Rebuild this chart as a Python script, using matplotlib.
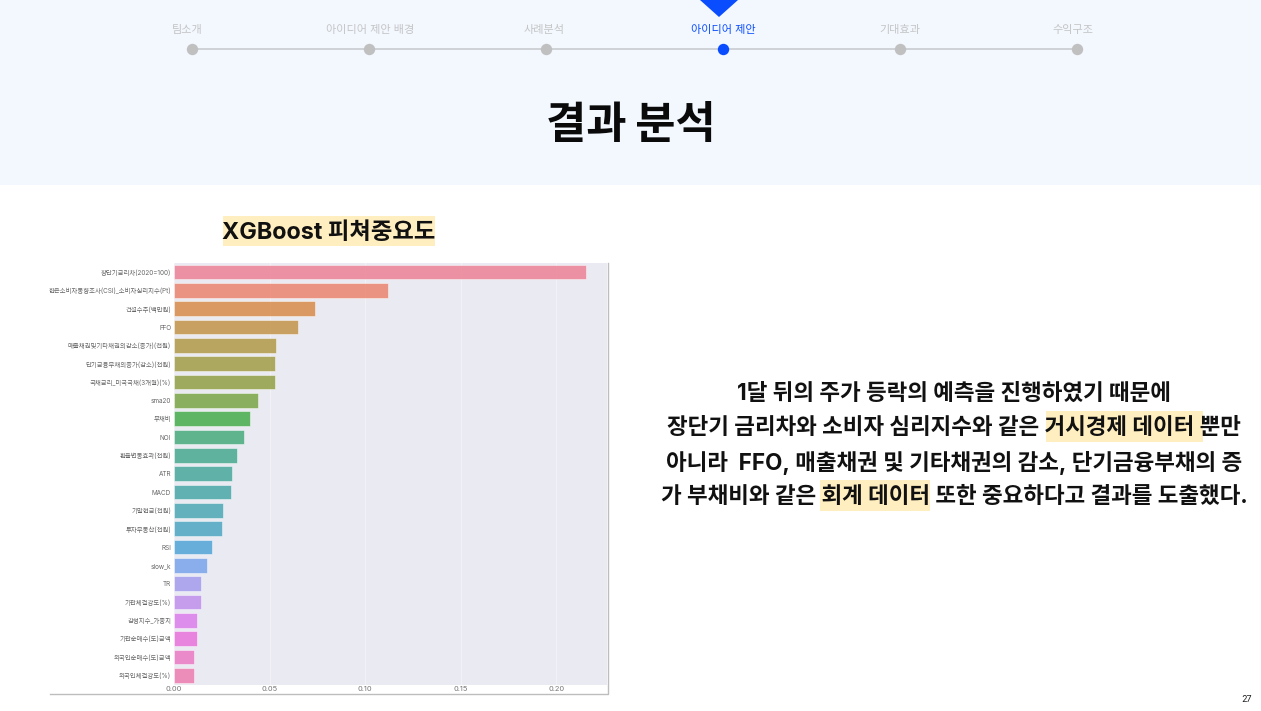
import matplotlib
matplotlib.use('Agg')
import matplotlib.pyplot as plt
import seaborn as sns
from matplotlib.patches import Rectangle, Polygon

# Inter for latin and digits, Noto for the hangul
plt.rcParams['font.family'] = ['Inter', 'Noto Sans CJK KR', 'DejaVu Sans']

# Chart data
features = ['장단기금리차(2020=100)', '한은소비자동향조사(CSI)_소비자심리지수(Pt)', '건설수주(백만원)', 'FFO',
            '매출채권및기타채권의감소(증가)(천원)', '단기금융부채의증가(감소)(천원)', '국채금리_미국국채(3개월)(%)',
            'sma20', '부채비', 'NOI', '환율변동효과(천원)', 'ATR', 'MACD', '기말현금(천원)', '투자부동산(천원)',
            'RSI', 'slow_k', 'TR', '기관체결강도(%)', '감성지수_가중치', '기관순매수(도)금액',
            '외국인순매수(도)금액', '외국인체결강도(%)']
importance = [0.2155, 0.1120, 0.0737, 0.0650, 0.0535, 0.0527, 0.0526, 0.0440, 0.0398, 0.0367,
              0.0327, 0.0303, 0.0298, 0.0257, 0.0252, 0.0197, 0.0172, 0.0143, 0.0141, 0.0118,
              0.0118, 0.0106, 0.0102]
x_ticks = [0.00, 0.05, 0.10, 0.15, 0.20]

steps = ['팀소개', '아이디어 제안 배경', '사례분석', '아이디어 제안', '기대효과', '수익구조']
step_label_x = [187, 370, 544, 723, 900, 1073]
step_node_x = [191.5, 368.5, 545.5, 722.5, 899.5, 1076.5]
active_step = 3

body_lines = ['1달 뒤의 주가 등락의 예측을 진행하였기 때문에',
              '장단기 금리차와 소비자 심리지수와 같은 거시경제 데이터 뿐만',
              '아니라  FFO, 매출채권 및 기타채권의 감소, 단기금융부채의 증',
              '가 부채비와 같은 회계 데이터 또한 중요하다고 결과를 도출했다.']
body_y = [394, 428, 463, 497]

W, H = 1261, 711
BLUE = '#0A4DFF'
HIGHLIGHT = '#FFEEBF'

fig = plt.figure(figsize=(W / 100, H / 100), dpi=100, facecolor='white')

# Full page layer in pixel coordinates for the slide decoration
page = fig.add_axes([0, 0, 1, 1])
page.set_xlim(0, W)
page.set_ylim(H, 0)
page.axis('off')

page.add_patch(Rectangle((0, 0), W, 185, color='#F3F8FF', lw=0))
page.add_patch(Polygon([(700, 0), (738, 0), (719, 17)], color=BLUE, lw=0))
page.plot([192, 1077], [49, 49], color='#CFD2D6', lw=1.4, zorder=2)
for i, name in enumerate(steps):
    col = BLUE if i == active_step else '#C0C0C0'
    txt_col = BLUE if i == active_step else '#C4C4C4'
    page.plot(step_node_x[i], 49, 'o', ms=8.2, color=col, mew=0, zorder=3)
    page.text(step_label_x[i], 30, name, color=txt_col, fontsize=8.0, ha='center', va='center')

page.text(631, 127, '결과 분석', fontsize=31.5, fontweight='black', color='#0A0A0A', ha='center', va='center')

# Highlighted words
page.add_patch(Rectangle((223, 216), 212, 30, color=HIGHLIGHT, lw=0))
page.add_patch(Rectangle((1046, 411), 157, 31, color=HIGHLIGHT, lw=0))
page.add_patch(Rectangle((820, 480), 110, 31, color=HIGHLIGHT, lw=0))

page.text(329, 233, 'XGBoost 피쳐중요도', fontsize=16.8, fontweight='bold', color='#111111', ha='center', va='center')

for text, y in zip(body_lines, body_y):
    page.text(954, y, text, fontsize=16.2, fontweight='bold', color='#111111', ha='center', va='center')

page.text(1247, 700, '27', fontsize=6.5, color='#222222', ha='center', va='center')

# Frame around the pasted chart image
page.plot([50, 608, 608], [694, 694, 263], color='#BDBDBD', lw=1.0)

# Bar chart
ax = fig.add_axes([174 / W, 1 - 684.5 / H, (606.5 - 174) / W, (684.5 - 263) / H])
ax.set_facecolor('#E9EAF2')
colors = sns.color_palette('husl', len(features), desat=0.85)
y_pos = list(range(len(features)))
ax.barh(y_pos, importance, height=0.8, color=colors, alpha=0.8, edgecolor='#FFFFFF', linewidth=0.4, zorder=3)
ax.set_xlim(0, 0.2262)
ax.set_ylim(len(features) - 0.5, -0.5)
ax.set_yticks(y_pos)
ax.set_yticklabels(features, fontsize=4.6, color='#666666')
ax.set_xticks(x_ticks)
ax.set_xticklabels([f'{t:.2f}' for t in x_ticks], fontsize=5.4, color='#777777')
ax.tick_params(length=0)
ax.tick_params(axis='y', pad=2)
ax.tick_params(axis='x', pad=1)
ax.grid(axis='x', color='#F1F1F6', lw=0.8, zorder=1)
for s in ax.spines.values():
    s.set_visible(False)

fig.savefig('out.png', dpi=100)
